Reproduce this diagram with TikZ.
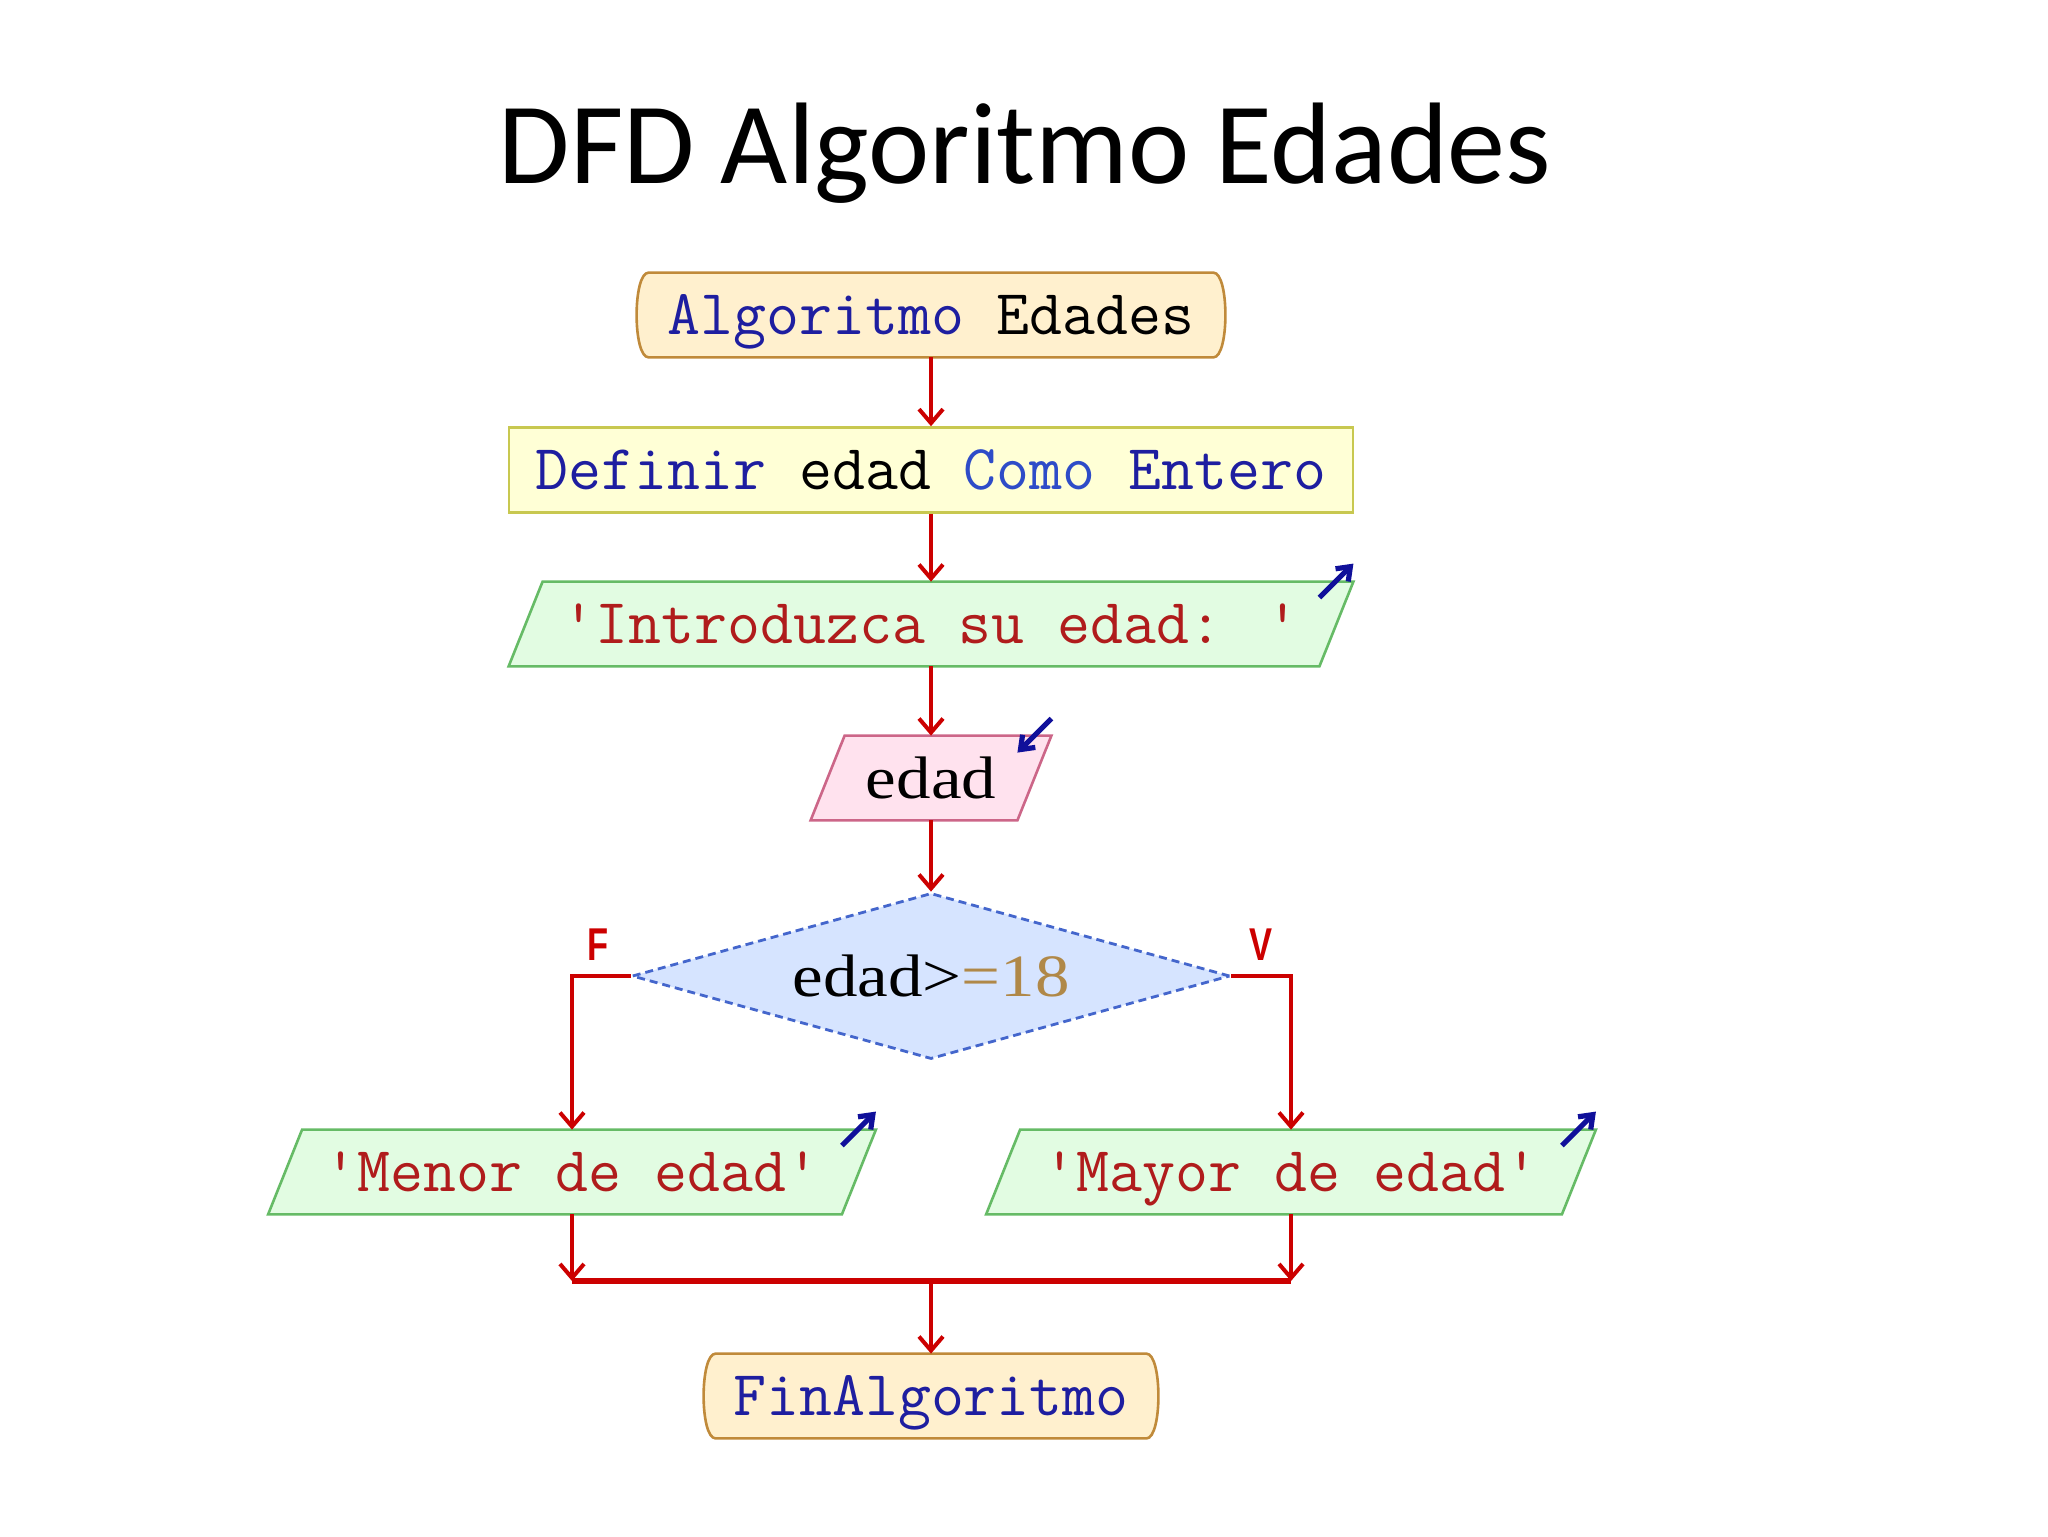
\documentclass[tikz,border=0pt]{standalone}
\usepackage{fontspec}
\usetikzlibrary{shapes.geometric,arrows.meta,calc,backgrounds}
\newfontfamily\titlefont{Carlito}
\newfontfamily\serfont[FakeStretch=1.15]{Liberation Serif}
\newfontfamily\lblfont[FakeStretch=0.75]{Liberation Sans}
\definecolor{dfdblue}{HTML}{1E1EA0}
\definecolor{comoblue}{HTML}{2E4CC8}
\definecolor{dfdred}{HTML}{B01C1C}
\definecolor{connred}{HTML}{CC0000}
\definecolor{arrowblue}{HTML}{10109A}
\definecolor{numcol}{HTML}{B08848}
\definecolor{termfill}{HTML}{FFF0CE}
\definecolor{termborder}{HTML}{C08A3A}
\definecolor{deffill}{HTML}{FFFFD6}
\definecolor{defborder}{HTML}{C8C850}
\definecolor{outfill}{HTML}{E2FCE2}
\definecolor{outborder}{HTML}{66BB66}
\definecolor{infill}{HTML}{FFE2EE}
\definecolor{inborder}{HTML}{CC6688}
\definecolor{diafill}{HTML}{D6E4FF}
\definecolor{diaborder}{HTML}{4466CC}
\newcommand\drawpara[2]{\path[#2] ($(#1.north west)+(17,0)$) -- ($(#1.north east)+(17,0)$)
  -- ($(#1.south east)+(-17,0)$) -- ($(#1.south west)+(-17,0)$) -- cycle;}
\newcommand\drawterm[1]{\path[termshape] (#1.north west) -- (#1.north east)
  .. controls +(16,0) and +(16,0) .. (#1.south east)
  -- (#1.south west) .. controls +(-16,0) and +(-16,0) .. cycle;}
\begin{document}
\begin{tikzpicture}[x=0.5pt,y=-0.5pt,
  monofont/.style={font=\ttfamily\fontsize{32}{36}\selectfont, text height=23pt, text depth=3.5pt},
  serfnt/.style={font=\serfont\fontsize{30}{34}\selectfont},
  termbody/.style={rectangle, inner sep=0, minimum height=42pt, text=dfdblue, monofont},
  termshape/.style={draw=termborder, fill=termfill, line width=1.3pt},
  defbox/.style={rectangle, draw=defborder, fill=deffill, line width=1.3pt, inner sep=0,
    minimum width=422pt, minimum height=42.5pt, monofont},
  iobody/.style={rectangle, inner sep=0, minimum height=42pt},
  outbox/.style={iobody, text=dfdred, monofont},
  inbox/.style={iobody, serfnt},
  outshape/.style={draw=outborder, fill=outfill, line width=1.3pt},
  inshape/.style={draw=inborder, fill=infill, line width=1.3pt},
  decision/.style={diamond, draw=diaborder, fill=diafill, dash pattern=on 4pt off 2.5pt,
    line width=1.4pt, inner sep=0, aspect=3.6, minimum width=299pt, minimum height=83pt, serfnt},
  conn/.style={draw=connred, line width=2pt, -{Straight Barb[length=7pt,width=12pt]}},
  joinline/.style={draw=connred, line width=3pt},
  ioarrow/.style={draw=arrowblue, line width=2.6pt, -{Straight Barb[length=6pt,width=9pt]}},
  branchlbl/.style={text=connred, font=\lblfont\bfseries\fontsize{23}{25}\selectfont, inner sep=0}
]
\useasboundingbox (0,0) rectangle (2048,1536);

\node[font=\titlefont\fontsize{58}{70}\selectfont, anchor=base] (title) at (1025,183) {DFD Algoritmo Edades};

\node[termbody, minimum width=282pt] (t1) at (931,315) {Algoritmo \textcolor{black}{Edades}};
\node[defbox] (def) at (931,470) {\textcolor{dfdblue}{Definir} edad \textcolor{comoblue}{Como} \textcolor{dfdblue}{Entero}};
\node[outbox, minimum width=405pt] (out1) at (931,624) {'Introduzca su edad: '};
\node[inbox, minimum width=103pt] (in1) at (931,778) {edad};
\node[decision] (dia) at (931,976) {edad>\textcolor{numcol}{=18}};
\node[outbox, minimum width=286.5pt] (menor) at (572,1172) {'Menor de edad'};
\node[outbox, minimum width=287.5pt] (mayor) at (1291,1172) {'Mayor de edad'};
\node[termbody, minimum width=215pt] (t2) at (931,1396) {FinAlgoritmo};

\node[branchlbl] (lf) at (598,945) {F};
\node[branchlbl] (lv) at (1261,945) {V};

\begin{scope}[on background layer]
\drawterm{t1}
\drawterm{t2}
\drawpara{out1}{outshape}
\drawpara{in1}{inshape}
\drawpara{menor}{outshape}
\drawpara{mayor}{outshape}
\end{scope}

\draw[conn] (t1.south) -- (def.north);
\draw[conn] (def.south) -- (out1.north);
\draw[conn] (out1.south) -- (in1.north);
\draw[conn] (in1.south) -- (dia.north);
\draw[conn] (dia.west) -| (menor.north);
\draw[conn] (dia.east) -| (mayor.north);

\coordinate (jc) at (t2.north |- 0,1281);
\coordinate (jl) at (menor.south |- jc);
\coordinate (jr) at (mayor.south |- jc);
\draw[joinline] (jl) -- (jr);
\draw[conn] (menor.south) -- (jl);
\draw[conn] (mayor.south) -- (jr);
\draw[conn] (jc) -- (t2.north);

\draw[ioarrow] ($(out1.north east)+(-17,16)$) -- ($(out1.north east)+(17,-18)$);
\draw[ioarrow] ($(in1.north east)+(17,-17)$) -- ($(in1.north east)+(-17,17)$);
\draw[ioarrow] ($(menor.north east)+(-17,16)$) -- ($(menor.north east)+(17,-18)$);
\draw[ioarrow] ($(mayor.north east)+(-17,16)$) -- ($(mayor.north east)+(17,-18)$);
\end{tikzpicture}
\end{document}
